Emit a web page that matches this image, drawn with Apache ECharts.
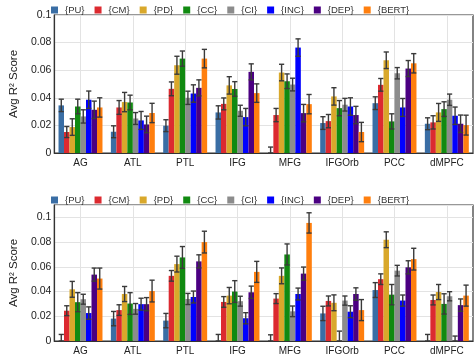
<!DOCTYPE html>
<html>
<head>
<meta charset="utf-8">
<script src="https://cdn.jsdelivr.net/npm/echarts@6/dist/echarts.min.js"></script>
<style>
html,body{margin:0;padding:0;background:#fff;}
#chart{width:474px;height:356px;}
</style>
</head>
<body>
<div id="chart"></div>
<script>
// ---- data ----
const categories = ['AG', 'ATL', 'PTL', 'IFG', 'MFG', 'IFGOrb', 'PCC', 'dMPFC'];
const seriesNames = ['{PU}', '{CM}', '{PD}', '{CC}', '{CI}', '{INC}', '{DEP}', '{BERT}'];
const yTicks = [0, 0.02, 0.04, 0.06, 0.08, 0.1];

// top panel
const topPU = [0.0345, 0.0154, 0.0198, 0.0294, 0, 0.0217, 0.0361, 0.0212];
const topPUErr = [0.0045, 0.0043, 0.0043, 0.0048, 0.0043, 0.0046, 0.0046, 0.0043];
const topCM = [0.0152, 0.033, 0.0465, 0.0356, 0.0275, 0.0231, 0.0494, 0.0222];
const topCMErr = [0.004, 0.005, 0.005, 0.0043, 0.0048, 0.0048, 0.0046, 0.0048];
const topPD = [0.0188, 0.0369, 0.0636, 0.049, 0.0583, 0.041, 0.0672, 0.0294];
const topPDErr = [0.006, 0.007, 0.0065, 0.0063, 0.006, 0.0063, 0.006, 0.0065];
const topCC = [0.0337, 0.0366, 0.0684, 0.0464, 0.052, 0.0325, 0.0229, 0.0318];
const topCCErr = [0.0053, 0.0053, 0.0055, 0.0053, 0.0053, 0.0055, 0.0055, 0.0053];
const topCI = [0.0265, 0.025, 0.040, 0.0306, 0.0496, 0.035, 0.0578, 0.0386];
const topCIErr = [0.0048, 0.0043, 0.0048, 0.004, 0.0046, 0.0046, 0.0041, 0.0041];
const topINC = [0.0386, 0.0236, 0.0431, 0.026, 0.0764, 0.0337, 0.033, 0.027];
const topINCErr = [0.0063, 0.0065, 0.0063, 0.0063, 0.0063, 0.0063, 0.0065, 0.0063];
const topDEP = [0.0313, 0.0207, 0.0472, 0.0588, 0.0289, 0.0275, 0.0612, 0.0212];
const topDEPErr = [0.0063, 0.006, 0.0058, 0.0058, 0.0063, 0.0063, 0.0058, 0.0063];
const topBERT = [0.033, 0.029, 0.0684, 0.0434, 0.0354, 0.0152, 0.065, 0.0202];
const topBERTErr = [0.007, 0.007, 0.0067, 0.0067, 0.007, 0.007, 0.007, 0.0072];

// bottom panel
const botPU = [0, 0.0181, 0.0165, 0, 0, 0.0223, 0.0412, 0];
const botPUErr = [0.0053, 0.0058, 0.0058, 0.0053, 0.005, 0.0058, 0.006, 0.0053];
const botCM = [0.0245, 0.025, 0.0527, 0.0316, 0.0343, 0.0324, 0.050, 0.0332];
const botCMErr = [0.004, 0.0043, 0.0043, 0.0043, 0.004, 0.004, 0.0043, 0.004];
const botPD = [0.0418, 0.038, 0.0622, 0.0367, 0.0527, 0.0309, 0.0819, 0.0396];
const botPDErr = [0.0064, 0.0061, 0.0064, 0.0066, 0.0064, 0.0064, 0.0064, 0.0061];
const botCC = [0.0314, 0.0303, 0.0676, 0.040, 0.070, 0, 0.0375, 0.030];
const botCCErr = [0.0077, 0.0088, 0.0088, 0.0088, 0.0085, 0.008, 0.0082, 0.0082];
const botCI = [0.0338, 0.026, 0.034, 0.0322, 0.024, 0.0327, 0.0569, 0.0362];
const botCIErr = [0.004, 0.0043, 0.0045, 0.004, 0.0043, 0.0037, 0.0043, 0.0037];
const botINC = [0.0226, 0.0298, 0.0356, 0.0184, 0.038, 0.0237, 0.0327, 0];
const botINCErr = [0.005, 0.0048, 0.0048, 0.0045, 0.0048, 0.0048, 0.0045, 0.004];
const botDEP = [0.0537, 0.0298, 0.0644, 0.0394, 0.0545, 0.038, 0.0596, 0.029];
const botDEPErr = [0.0053, 0.0053, 0.0053, 0.005, 0.0053, 0.005, 0.0053, 0.005];
const botBERT = [0.0505, 0.0404, 0.080, 0.0559, 0.0955, 0.025, 0.0662, 0.0367];
const botBERTErr = [0.0085, 0.0088, 0.0088, 0.0085, 0.0082, 0.0085, 0.0088, 0.0085];

const colors = ['#3a6ea5', '#dc2a30', '#d9a82b', '#118a11', '#8c8c8c', '#0000ff', '#4b0082', '#ff7f0e'];

const topVals = [topPU, topCM, topPD, topCC, topCI, topINC, topDEP, topBERT];
const topErrs = [topPUErr, topCMErr, topPDErr, topCCErr, topCIErr, topINCErr, topDEPErr, topBERTErr];
const botVals = [botPU, botCM, botPD, botCC, botCI, botINC, botDEP, botBERT];
const botErrs = [botPUErr, botCMErr, botPDErr, botCCErr, botCIErr, botINCErr, botDEPErr, botBERTErr];

// ---- chart ----
const FONT = 'Liberation Sans, Arial, sans-serif';
const GAP = 0.16;
const N = seriesNames.length;

function fmt(v) {
  if (v > 0.105) return '';
  return yTicks.includes(Math.round(v * 1000) / 1000) ? String(Math.round(v * 1000) / 1000) : '';
}

function makeErrSeries(vals, errs, idx) {
  const data = [];
  vals.forEach((arr, s) => arr.forEach((v, c) => data.push([c, s, v, errs[s][c]])));
  return {
    type: 'custom',
    xAxisIndex: idx, yAxisIndex: idx,
    z: 5,
    encode: { x: 0, y: 2 },
    data: data,
    renderItem: function (params, api) {
      const c = api.value(0), s = api.value(1), v = api.value(2), e = api.value(3);
      const band = api.size([1, 0])[0];
      const barW = band * (1 - GAP) / N;
      const center = api.coord([c, 0])[0];
      const x = center - band * (1 - GAP) / 2 + (s + 0.5) * barW;
      const yTop = api.coord([c, v + e])[1];
      const yBot = api.coord([c, Math.max(0, v - e)])[1];
      const cap = 2.6;
      const st = { stroke: '#3a3a3a', lineWidth: 1.4 };
      return {
        type: 'group',
        children: [
          { type: 'line', shape: { x1: x, y1: yTop, x2: x, y2: yBot }, style: st },
          { type: 'line', shape: { x1: x - cap, y1: yTop, x2: x + cap, y2: yTop }, style: st },
          { type: 'line', shape: { x1: x - cap, y1: yBot, x2: x + cap, y2: yBot }, style: st }
        ]
      };
    }
  };
}

function barSeries(vals, idx) {
  return vals.map((arr, s) => ({
    name: seriesNames[s],
    type: 'bar',
    xAxisIndex: idx, yAxisIndex: idx,
    data: arr,
    barGap: '0%',
    barCategoryGap: (GAP * 100) + '%',
    itemStyle: { color: colors[s] },
    emphasis: { disabled: true }
  }));
}

function legend(top) {
  return {
    top: top, left: 46,
    itemWidth: 7, itemHeight: 7, itemGap: 10,
    icon: 'rect',
    data: seriesNames,
    selectedMode: false,
    textStyle: { fontFamily: FONT, fontSize: 9.5, color: '#333', padding: [0, 0, 0, 2] }
  };
}

function xAxis(gi) {
  return {
    type: 'category', gridIndex: gi, data: categories,
    axisLine: { show: true, lineStyle: { color: '#333', width: 1.2 } },
    axisTick: { show: false },
    axisLabel: { fontFamily: FONT, fontSize: 10, color: '#222', margin: 5 },
    splitLine: { show: true, alignWithLabel: true, lineStyle: { color: '#e3e3e3', width: 1 } }
  };
}
function yAxis(gi, max) {
  return {
    type: 'value', gridIndex: gi, min: 0, max: max, interval: 0.02,
    name: 'Avg R² Score', nameLocation: 'middle', nameGap: 26,
    nameTextStyle: { fontFamily: FONT, fontSize: 11.5, color: '#222' },
    axisLine: { show: true, lineStyle: { color: '#333', width: 1.2 } },
    axisTick: { show: false },
    axisLabel: { fontFamily: FONT, fontSize: 10.5, color: '#222', margin: 3, formatter: fmt },
    splitLine: { show: true, lineStyle: { color: '#e3e3e3', width: 1 } }
  };
}

const chart = echarts.init(document.getElementById('chart'), null, { renderer: 'canvas' });
chart.setOption({
  animation: false,
  backgroundColor: '#fff',
  legend: [legend(0), legend(190)],
  grid: [
    { left: 36, right: 1, top: 15, height: 138, show: true, borderColor: '#333', borderWidth: 1.2, containLabel: false },
    { left: 36, right: 1, top: 205, height: 139, show: true, borderColor: '#333', borderWidth: 1.2, containLabel: false }
  ],
  xAxis: [xAxis(0), xAxis(1)],
  yAxis: [yAxis(0, 0.1), yAxis(1, 0.11)],
  series: [].concat(
    barSeries(topVals, 0),
    barSeries(botVals, 1),
    [makeErrSeries(topVals, topErrs, 0), makeErrSeries(botVals, botErrs, 1)]
  )
});
</script>
</body>
</html>
